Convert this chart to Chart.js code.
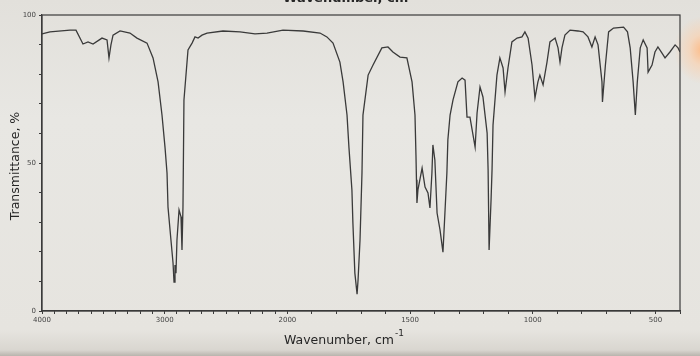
<!DOCTYPE html>
<html>
<head>
<meta charset="utf-8">
<script src="https://cdn.jsdelivr.net/npm/chart.js@4"></script>
<style>
  html, body { margin: 0; padding: 0; }
  body {
    width: 700px; height: 356px; overflow: hidden;
    background:
      radial-gradient(ellipse 28px 34px at 702px 50px, rgba(255,185,130,0.9) 0%, rgba(255,205,165,0.55) 45%, rgba(235,232,226,0) 100%),
      linear-gradient(to bottom, #e2e0db 0px, #e8e7e3 120px, #e6e4df 330px, #d9d6d0 350px, #b8b4ad 356px);
  }
  #wrap { position: absolute; left: 0; top: 0; width: 700px; height: 356px; }
</style>
</head>
<body>
<div id="wrap"><canvas id="c" width="700" height="356"></canvas></div>
<script>
// Wavenumbers (cm^-1) and transmittance (%)
const wavenumber = [
  4000, 3935, 3772, 3723, 3666, 3625, 3584, 3511, 3470, 3454, 3438, 3421, 3364, 3283, 3226, 3144, 3095, 3054, 3022, 2997,
  2981, 2973, 2949, 2932, 2924, 2916, 2908, 2900, 2883, 2867, 2859, 2851, 2843, 2810, 2777, 2753, 2728, 2696, 2655, 2525,
  2386, 2264, 2166, 2036, 1936, 1867, 1839, 1814, 1786, 1773, 1757, 1749, 1737, 1733, 1725, 1716, 1712, 1704, 1696, 1692,
  1671, 1651, 1615, 1590, 1570, 1541, 1513, 1492, 1480, 1476, 1474, 1472, 1468, 1451, 1439, 1427, 1419, 1411, 1407, 1399,
  1390, 1378, 1366, 1358, 1350, 1346, 1337, 1325, 1305, 1288, 1276, 1268, 1256, 1235, 1227, 1215, 1203, 1186, 1182, 1178,
  1170, 1166, 1162, 1146, 1134, 1121, 1113, 1101, 1085, 1064, 1044, 1032, 1019, 1003, 991, 979, 971, 958, 942, 930,
  909, 897, 889, 881, 869, 848, 816, 795, 775, 759, 746, 734, 718, 716, 704, 691, 671, 630, 614, 603,
  591, 582, 574, 562, 550, 534, 530, 514, 502, 490, 474, 461, 441, 420, 408, 400
];
const transmittance = [
  93.6, 94.3, 94.9, 94.9, 90.2, 90.9, 90.2, 92.2, 91.6, 85.5, 89.9, 93.2, 94.6, 93.9, 92.2, 90.5, 85.5, 77.4, 66.2, 55.1,
  46.6, 35.1, 24.0, 16.2, 9.8, 15.5, 12.8, 24.0, 34.1, 31.8, 20.6, 35.1, 71.3, 88.2, 90.5, 92.6, 92.2, 93.2, 93.9, 94.6,
  94.3, 93.6, 93.9, 94.9, 94.6, 93.9, 92.6, 90.5, 84.1, 77.4, 66.2, 55.1, 40.9, 29.7, 12.8, 5.7, 10.5, 24.0, 46.6, 66.2,
  79.7, 83.1, 88.9, 89.2, 87.5, 85.8, 85.5, 77.4, 66.2, 52.7, 44.3, 36.5, 40.9, 48.3, 41.9, 39.9, 34.8, 46.6, 56.1, 51.0,
  33.1, 27.4, 19.9, 33.1, 46.6, 57.8, 66.2, 71.3, 77.4, 78.7, 78.0, 65.5, 65.5, 55.4, 66.9, 75.7, 72.3, 60.1, 47.6, 20.6,
  37.5, 47.6, 62.8, 79.7, 85.5, 82.1, 74.0, 82.1, 90.9, 92.2, 92.6, 94.3, 92.2, 83.1, 72.0, 77.4, 79.7, 76.4, 84.1, 90.9,
  92.2, 88.9, 84.1, 88.9, 93.2, 94.9, 94.6, 94.3, 92.6, 89.2, 92.6, 89.9, 77.4, 70.6, 83.1, 94.3, 95.6, 95.9, 94.3, 88.9,
  77.4, 66.2, 77.4, 88.9, 91.6, 88.9, 80.7, 83.1, 87.5, 89.2, 87.2, 85.5, 87.5, 89.9, 88.9, 87.5
];
const xTickLabels = [4000, 3000, 2000, 1500, 1000, 500];
const yTickLabels = [0, 50, 100];

// Spectrometer axis: scale halves below 2000 cm^-1
function wnToPos(w) { return w >= 2000 ? 4000 - w : 2000 + 2 * (2000 - w); }
function posToWn(p) { return p <= 2000 ? 4000 - p : 2000 - (p - 2000) / 2; }

const xTickWn = [];
for (let w = 4000; w >= 400; w -= 100) xTickWn.push(w);

const ink = '#3a3a3a';
const font = '"DejaVu Sans", sans-serif';

const framePlugin = {
  id: 'frame',
  afterDraw(chart) {
    const { ctx, chartArea: a } = chart;
    ctx.save();
    ctx.strokeStyle = ink;
    ctx.lineWidth = 1.2;
    ctx.strokeRect(a.left, a.top, a.right - a.left, a.bottom - a.top);
    ctx.fillStyle = '#262626';
    ctx.textBaseline = 'alphabetic';
    // cut-off title at the top of the photo
    ctx.font = '600 13px ' + font;
    ctx.textAlign = 'left';
    ctx.fillText('Wavenumber, cm', 283, 2);
    // x-axis title
    ctx.font = '500 12.5px ' + font;
    ctx.textAlign = 'center';
    ctx.fillText('Wavenumber, cm', 339, 344);
    const wMain = ctx.measureText('Wavenumber, cm').width;
    ctx.font = '9px ' + font;
    ctx.textAlign = 'left';
    ctx.fillText('-1', 339 + wMain / 2 + 1, 336);
    // y-axis title
    ctx.font = '500 12.5px ' + font;
    ctx.translate(16, 166);
    ctx.rotate(-Math.PI / 2);
    ctx.textAlign = 'center';
    ctx.textBaseline = 'middle';
    ctx.fillText('Transmittance, %', 0, 0);
    ctx.restore();
  }
};

new Chart(document.getElementById('c'), {
  type: 'line',
  data: {
    datasets: [{
      data: wavenumber.map((w, i) => ({ x: wnToPos(w), y: transmittance[i] })),
      borderColor: ink,
      borderWidth: 1.3,
      pointRadius: 0,
      tension: 0,
      fill: false
    }]
  },
  options: {
    responsive: false,
    animation: false,
    layout: { padding: { top: 15, right: 20, left: 0, bottom: 0 } },
    plugins: { legend: { display: false }, tooltip: { enabled: false } },
    scales: {
      x: {
        type: 'linear',
        min: 0,
        max: wnToPos(400),
        afterBuildTicks(scale) {
          scale.ticks = xTickWn.map(w => ({ value: wnToPos(w) }));
        },
        afterFit(scale) { scale.height = 45; },
        ticks: {
          autoSkip: false,
          maxRotation: 0,
          padding: 2,
          color: '#444',
          font: { size: 7, family: font },
          callback(v) {
            const w = Math.round(posToWn(v));
            return xTickLabels.includes(w) ? String(w) : '';
          }
        },
        grid: { drawOnChartArea: false, drawTicks: true, tickLength: 3, color: ink, lineWidth: 1 },
        border: { display: true, color: ink, width: 1.2 }
      },
      y: {
        min: 0,
        max: 100,
        afterBuildTicks(scale) {
          const t = [];
          for (let v = 0; v <= 100; v += 10) t.push({ value: v });
          scale.ticks = t;
        },
        afterFit(scale) { scale.width = 42; },
        ticks: {
          autoSkip: false,
          padding: 3,
          color: '#444',
          font: { size: 7, family: font },
          callback(v) { return yTickLabels.includes(v) ? String(v) : ''; }
        },
        grid: { drawOnChartArea: false, drawTicks: true, tickLength: 3, color: ink, lineWidth: 1 },
        border: { display: true, color: ink, width: 1.2 }
      }
    }
  },
  plugins: [framePlugin]
});
</script>
</body>
</html>
